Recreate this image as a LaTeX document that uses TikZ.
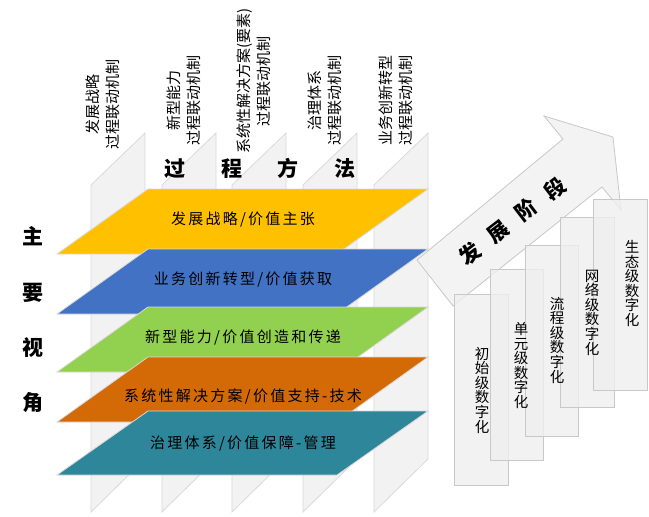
\documentclass[tikz,border=0pt]{standalone}
\usepackage{fontspec}
\setmainfont{Noto Sans CJK SC}
\newfontfamily\cjkls[LetterSpace=15]{Noto Sans CJK SC}
\definecolor{cY}{HTML}{FFC000}
\definecolor{cB}{HTML}{4172C4}
\definecolor{cG}{HTML}{92D050}
\definecolor{cO}{HTML}{D46A06}
\definecolor{cT}{HTML}{2E869A}
\definecolor{panelfill}{HTML}{F2F2F2}
\definecolor{paneledge}{HTML}{DADADA}
\definecolor{layeredge}{HTML}{D9D9D9}
\definecolor{boxfill}{HTML}{EFEFEF}
\definecolor{boxedge}{HTML}{C8C8C8}
\tikzset{
  panel/.style={fill=panelfill, draw=paneledge, line width=0.8pt},
  layer/.style={draw=layeredge, line width=0.8pt},
  layertext/.style={font=\fontsize{15}{18}\selectfont\cjkls, text=black, inner sep=0pt},
  toplabel/.style={rotate=90, align=center, font=\fontsize{15}{20}\selectfont, inner sep=0pt},
  bigtext/.style={font=\fontsize{21}{55.3}\selectfont\bfseries, inner sep=0pt},
  arrowshape/.style={fill=panelfill, fill opacity=0.85, draw=boxedge, line width=0.8pt},
  stagebox/.style={fill=boxfill, fill opacity=0.8, draw=boxedge, line width=1pt},
  stagetext/.style={align=center, font=\fontsize{14.5}{14.6}\selectfont, inner sep=0pt}
}
\begin{document}
\begin{tikzpicture}[x=1pt, y=-1pt]
\useasboundingbox (0,0) rectangle (649,517);
\fill[white] (0,0) rectangle (649,517);

% background panels
\foreach \L in {91,162,232,303,374}
  \filldraw[panel] (\L,185) -- (\L+54,133) -- (\L+54,459) -- (\L,512) -- cycle;

% top rotated labels
\node[toplabel] (p1) at (103,104) {发展战略\\过程联动机制};
\node[toplabel] (p2) at (184,100) {新型能力\\过程联动机制};
\node[toplabel] (p3) at (254,81) {系统性解决方案(要素)\\过程联动机制};
\node[toplabel] (p4) at (325,100) {治理体系\\过程联动机制};
\node[toplabel] (p5) at (396,100) {业务创新转型\\过程联动机制};

\node[bigtext] (gcff) at (260,168) {过\hspace{35.5pt}程\hspace{35.5pt}方\hspace{35.5pt}法};
\node[bigtext, align=center] (zysj) at (33,320) {主\\要\\视\\角};

% arrow
\filldraw[arrowshape] (417,260) -- (563,139) -- (544,116) -- (613,137) -- (621,210) -- (602,187) -- (453,306) -- cycle;
\node[bigtext, rotate=37.4] (fzjd) at (512,221) {发\hspace{14.7pt}展\hspace{14.7pt}阶\hspace{14.7pt}段};

% layers
\filldraw[layer, fill=cY] (57,254) -- (337,254) -- (428,189) -- (148,189) -- cycle;
\node[layertext] (l1) at (243,220) {发展战略/价值主张};
\filldraw[layer, fill=cB] (57,314) -- (337,314) -- (428,249) -- (148,249) -- cycle;
\node[layertext] (l2) at (243,280) {业务创新转型/价值获取};
\filldraw[layer, fill=cG] (57,372) -- (337,372) -- (428,307) -- (148,307) -- cycle;
\node[layertext] (l3) at (243,338) {新型能力/价值创造和传递};
\filldraw[layer, fill=cO] (57,422) -- (337,422) -- (428,357) -- (148,357) -- cycle;
\node[layertext] (l4) at (243,396) {系统性解决方案/价值支持-技术};
\filldraw[layer, fill=cT] (57,475) -- (337,475) -- (428,411) -- (148,411) -- cycle;
\node[layertext] (l5) at (243,444) {治理体系/价值保障-管理};

% stage boxes
\path[stagebox] (454,294) rectangle (508,485);
\path[stagebox] (490,269) rectangle (543,460);
\path[stagebox] (525,245) rectangle (578,436);
\path[stagebox] (560,217) rectangle (614,407);
\path[stagebox] (593,199) rectangle (647,390);
\node[stagetext] (s1) at (482,390) {初\\始\\级\\数\\字\\化};
\node[stagetext] (s2) at (521,365.5) {单\\元\\级\\数\\字\\化};
\node[stagetext] (s3) at (557,340) {流\\程\\级\\数\\字\\化};
\node[stagetext] (s4) at (592,312.5) {网\\络\\级\\数\\字\\化};
\node[stagetext] (s5) at (632,283.5) {生\\态\\级\\数\\字\\化};
\end{tikzpicture}
\end{document}
